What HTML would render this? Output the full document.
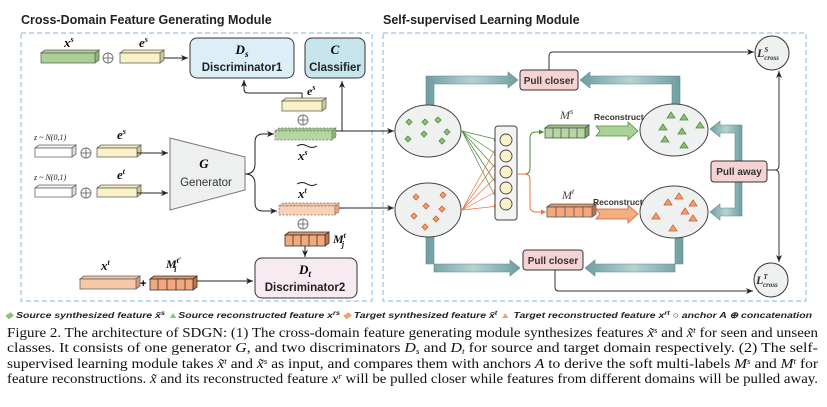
<!DOCTYPE html>
<html><head><meta charset="utf-8"><style>
html,body{margin:0;padding:0;background:#fff;}
svg{display:block;}
.t{font-family:"Liberation Sans",sans-serif;}
.s{font-family:"Liberation Serif",serif;}
</style></head><body>
<svg width="827" height="407" viewBox="0 0 827 407" xmlns="http://www.w3.org/2000/svg">
<defs>
<marker id="a" markerWidth="8" markerHeight="8" refX="7" refY="4" orient="auto" markerUnits="userSpaceOnUse"><path d="M0,1 L7,4 L0,7 L2,4z" fill="#222"/></marker>
<marker id="ag" markerWidth="6" markerHeight="6" refX="5" refY="3" orient="auto" markerUnits="userSpaceOnUse"><path d="M0,0.5 L5,3 L0,5.5z" fill="#4f8a3a"/></marker>
<marker id="ao" markerWidth="6" markerHeight="6" refX="5" refY="3" orient="auto" markerUnits="userSpaceOnUse"><path d="M0,0.5 L5,3 L0,5.5z" fill="#e8703a"/></marker>
<linearGradient id="tg" x1="0" y1="0" x2="1" y2="0"><stop offset="0" stop-color="#6f9ea0"/><stop offset="0.5" stop-color="#b7d2d3"/><stop offset="1" stop-color="#6f9ea0"/></linearGradient>
</defs>

<text x="21" y="24" class="t" font-size="12.5" font-weight="bold" fill="#222">Cross-Domain Feature Generating Module</text>
<text x="383" y="24" class="t" font-size="12.5" font-weight="bold" fill="#222">Self-supervised Learning Module</text>
<rect x="21" y="33" width="351" height="268" fill="none" stroke="#9cc3e4" stroke-width="1.2" stroke-dasharray="5,3"/>
<rect x="383" y="33" width="423" height="268" fill="none" stroke="#9cc3e4" stroke-width="1.2" stroke-dasharray="5,3"/>

<g stroke="#666" stroke-width="0.8">
<polygon points="41,53 45,50 99,50 95,53" fill="#a9cf94"/><polygon points="95,53 99,50 99,60 95,63" fill="#8ab574"/><rect x="41" y="53" width="54" height="10" fill="#a9cf94"/>
<polygon points="120,53 124,50 164,50 160,53" fill="#f3e7b4"/><polygon points="160,53 164,50 164,60 160,63" fill="#d9c98a"/><rect x="120" y="53" width="40" height="10" fill="#fbf1c8"/>
<polygon points="282,101 286,98 326,98 322,101" fill="#f3e7b4"/><polygon points="322,101 326,98 326,108 322,111" fill="#d9c98a"/><rect x="282" y="101" width="40" height="10" fill="#fbf1c8"/>
<polygon points="35,148 39,145 76,145 72,148" fill="#f4f4f4"/><polygon points="72,148 76,145 76,154 72,157" fill="#ddd"/><rect x="35" y="148" width="37" height="9" fill="#fff"/>
<polygon points="35,188 39,185 76,185 72,188" fill="#f4f4f4"/><polygon points="72,188 76,185 76,194 72,197" fill="#ddd"/><rect x="35" y="188" width="37" height="9" fill="#fff"/>
<polygon points="97,148 101,145 141,145 137,148" fill="#f3e7b4"/><polygon points="137,148 141,145 141,154 137,157" fill="#d9c98a"/><rect x="97" y="148" width="40" height="9" fill="#fbf1c8"/>
<polygon points="97,188 101,185 141,185 137,188" fill="#f3e7b4"/><polygon points="137,188 141,185 141,194 137,197" fill="#d9c98a"/><rect x="97" y="188" width="40" height="9" fill="#fbf1c8"/>
<polygon points="80,279 84,276 140,276 136,279" fill="#f6c3a1"/><polygon points="136,279 140,276 140,286 136,289" fill="#d99b77"/><rect x="80" y="279" width="56" height="10" fill="#f8c9a8"/>
</g>
<g stroke="#777" stroke-width="0.8" stroke-dasharray="2,1.5">
<polygon points="275,131 279,128 336,128 332,131" fill="#9cc486"/><rect x="275" y="131" width="57" height="9" fill="#b5d6a2"/><polygon points="332,131 336,128 336,137 332,140" fill="#8ab574"/>
<polygon points="279,206 283,203 339,203 335,206" fill="#f3bf9d"/><rect x="279" y="206" width="56" height="9" fill="#f9d1b6"/><polygon points="335,206 339,203 339,212 335,215" fill="#e0a583"/>
</g>
<g stroke="#333" stroke-width="0.8">
<polygon points="285,235 289,232 329,232 325,235" fill="#e99466"/><polygon points="325,235 329,232 329,243 325,246" fill="#c97246"/><rect x="285" y="235" width="40" height="11" fill="#f4a87e"/>
<path d="M293,235V246M301,235V246M309,235V246M317,235V246"/>
<polygon points="150,279 154,276 197,276 193,279" fill="#e99466"/><polygon points="193,279 197,276 197,287 193,290" fill="#c97246"/><rect x="150" y="279" width="43" height="11" fill="#f4a87e"/>
<path d="M158,279V290M167,279V290M176,279V290M185,279V290"/>
</g>
<g stroke="#555" stroke-width="0.8">
<polygon points="545,128 549,125 589,125 585,128" fill="#9cc486"/><polygon points="585,128 589,125 589,135 585,138" fill="#7aa566"/><rect x="545" y="128" width="40" height="10" fill="#b5d6a2"/>
<path d="M553,128V138M561,128V138M569,128V138M577,128V138"/>
<polygon points="547,207 551,204 596,204 592,207" fill="#e99466"/><polygon points="592,207 596,204 596,214 592,217" fill="#c97246"/><rect x="547" y="207" width="45" height="10" fill="#f4a87e"/>
<path d="M556,207V217M565,207V217M574,207V217M583,207V217"/>
</g>

<g class="s" font-style="italic" font-weight="bold" fill="#111">
<text x="64" y="47" font-size="13">x<tspan font-size="8" dy="-5">s</tspan></text>
<text x="139" y="47" font-size="13">e<tspan font-size="8" dy="-5">s</tspan></text>
<text x="307" y="95" font-size="12">e<tspan font-size="8" dy="-5">s</tspan></text>
<text x="117" y="139" font-size="13">e<tspan font-size="8" dy="-5">s</tspan></text>
<text x="117" y="179" font-size="13">e<tspan font-size="8" dy="-5">t</tspan></text>
<text x="298" y="160" font-size="13">x<tspan font-size="8" dy="-5">s</tspan></text>
<text x="298" y="198" font-size="13">x<tspan font-size="8" dy="-5">t</tspan></text>
<text x="101" y="270" font-size="13">x<tspan font-size="8" dy="-5">t</tspan></text>
<text x="166" y="268" font-size="12">M<tspan font-size="8" dy="-5">t′</tspan><tspan font-size="8" dx="-7" dy="9">i</tspan></text>
<text x="333" y="243" font-size="12">M<tspan font-size="8" dy="-5">t</tspan><tspan font-size="8" dx="-4" dy="9">j</tspan></text>
</g>
<g stroke="#111" stroke-width="1" fill="none">
<path d="M297,146 q5,-3 10,0 q5,3 10,0"/><path d="M297,184 q5,-3 10,0 q5,3 10,0"/>
</g>
<g class="s" font-style="italic" font-size="8" fill="#222">
<text x="34" y="140">z ~ N(0,1)</text><text x="34" y="180">z ~ N(0,1)</text>
</g>
<g stroke="#777" stroke-width="1" fill="none">
<circle cx="108" cy="58" r="5"/><path d="M103,58h10M108,53v10"/>
<circle cx="303" cy="120" r="5"/><path d="M298,120h10M303,115v10"/>
<circle cx="86" cy="153" r="5"/><path d="M81,153h10M86,148v10"/>
<circle cx="86" cy="193" r="5"/><path d="M81,193h10M86,188v10"/>
<circle cx="303" cy="224" r="5"/><path d="M298,224h10M303,219v10"/>
</g>
<text x="140" y="287" class="t" font-size="11" font-weight="bold">+</text>

<rect x="190" y="38" width="104" height="40" rx="7" fill="#dceff8" stroke="#333" stroke-width="1"/>
<text x="242" y="54" class="s" font-size="13" font-style="italic" font-weight="bold" text-anchor="middle">D<tspan font-size="9" dy="3">s</tspan></text>
<text x="242" y="71" class="t" font-size="11.5" font-weight="bold" text-anchor="middle" fill="#222">Discriminator1</text>
<rect x="305" y="38" width="60" height="40" rx="7" fill="#c6e5ec" stroke="#333" stroke-width="1"/>
<text x="335" y="54" class="s" font-size="13" font-style="italic" font-weight="bold" text-anchor="middle">C</text>
<text x="335" y="71" class="t" font-size="11.5" font-weight="bold" text-anchor="middle" fill="#222">Classifier</text>
<rect x="255" y="258" width="102" height="40" rx="7" fill="#f7eaf1" stroke="#333" stroke-width="1"/>
<text x="305" y="274" class="s" font-size="13" font-style="italic" font-weight="bold" text-anchor="middle">D<tspan font-size="9" dy="3">t</tspan></text>
<text x="305" y="291" class="t" font-size="11.5" font-weight="bold" text-anchor="middle" fill="#222">Discriminator2</text>

<polygon points="170,138 245,157 245,190 170,210" fill="#eef0f0" stroke="#777" stroke-width="1"/>
<text x="204" y="168" class="s" font-size="13" font-style="italic" font-weight="bold" text-anchor="middle">G</text>
<text x="206" y="186" class="t" font-size="11.5" text-anchor="middle" fill="#333">Generator</text>

<g stroke="#222" stroke-width="1" fill="none" marker-end="url(#a)">
<path d="M164,58H188"/>
<path d="M137,153H168"/><path d="M137,193H168"/>
<path d="M245,174 q10,0 10,-10 V142 q0,-8 8,-8 H274"/>
<path d="M245,174 q10,0 10,10 V203 q0,8 8,8 H277"/>
<path d="M302,98 V93 H248 q-4,0 -4,-4 V80"/>
<path d="M342,131 V81"/>
<path d="M305,246 V257"/>
<path d="M197,281 H253"/>
<path d="M336,131 H394"/>
<path d="M339,208 H394"/>
</g>

<g fill="url(#tg)" stroke="#5d8b8d" stroke-width="0.6">
<path d="M426,105 V76 H508 V72 L518,80 L508,88 V84 H434 V105z"/>
<path d="M680,104 V76 H590 V72 L580,80 L590,88 V84 H672 V104z"/>
<path d="M426,237 V264 H510 V260 L520,268 L510,276 V272 H434 V237z" />
<path d="M683,237 V264 H595 V260 L585,268 L595,276 V272 H675 V237z"/>
<path d="M742,125 H720 V121 L710,129 L720,137 V133 H735 V208 H720 V204 L710,212 L720,220 V216 H742z"/>
</g>

<g fill="#eef1f0" stroke="#444" stroke-width="1">
<ellipse cx="428" cy="131" rx="33" ry="26"/>
<ellipse cx="428" cy="210" rx="33" ry="27"/>
<ellipse cx="674" cy="130" rx="34" ry="26"/>
<ellipse cx="674" cy="212" rx="34" ry="26"/>
</g>
<g fill="#8cc07a" stroke="#4f8a3a" stroke-width="0.8">
<path d="M409,119l3,3-3,3-3-3z"/><path d="M425,119l3,3-3,3-3-3z"/><path d="M438,117l3,3-3,3-3-3z"/><path d="M447,129l3,3-3,3-3-3z"/><path d="M424,131l3,3-3,3-3-3z"/><path d="M408,136l3,3-3,3-3-3z"/><path d="M442,138l3,3-3,3-3-3z"/>
</g>
<g fill="#f2a070" stroke="#c9602c" stroke-width="0.8">
<path d="M416,194l3,3-3,3-3-3z"/><path d="M443,192l3,3-3,3-3-3z"/><path d="M426,203l3,3-3,3-3-3z"/><path d="M442,206l3,3-3,3-3-3z"/><path d="M414,213l3,3-3,3-3-3z"/><path d="M436,216l3,3-3,3-3-3z"/><path d="M425,224l3,3-3,3-3-3z"/>
</g>
<g fill="#8cc07a" stroke="#4f8a3a" stroke-width="0.8">
<path d="M671,112l4,6h-8z"/><path d="M684,114l4,6h-8z"/><path d="M663,124l4,6h-8z"/><path d="M682,128l4,6h-8z"/><path d="M700,122l4,6h-8z"/><path d="M665,136l4,6h-8z"/><path d="M684,142l4,6h-8z"/>
</g>
<g fill="#f2a070" stroke="#c9602c" stroke-width="0.8">
<path d="M679,193l4,6h-8z"/><path d="M668,199l4,6h-8z"/><path d="M693,200l4,6h-8z"/><path d="M685,208l4,6h-8z"/><path d="M693,215l4,6h-8z"/><path d="M656,213l4,6h-8z"/><path d="M673,225l4,6h-8z"/>
</g>

<g stroke="#4f8a3a" stroke-width="0.7" marker-end="url(#ag)">
<path d="M462,131L499,140"/><path d="M462,131L499,156"/><path d="M462,131L499,172"/><path d="M462,131L499,188"/><path d="M462,131L499,204"/>
</g>
<g stroke="#e8703a" stroke-width="0.7" marker-end="url(#ao)">
<path d="M462,210L499,142"/><path d="M462,210L499,158"/><path d="M462,210L499,174"/><path d="M462,210L499,190"/><path d="M462,210L499,206"/>
</g>
<rect x="495" y="126" width="22" height="94" rx="3" fill="#f3f3f3" stroke="#444" stroke-width="1"/>
<g fill="#fbf1c8" stroke="#444" stroke-width="0.9">
<circle cx="506" cy="140" r="6"/><circle cx="506" cy="156" r="6"/><circle cx="506" cy="172" r="6"/><circle cx="506" cy="188" r="6"/><circle cx="506" cy="204" r="6"/>
</g>
<path d="M517,174 h8 q5,0 5,-6 V138 q0,-6 6,-6 H544" stroke="#4f8a3a" fill="none" stroke-width="1" marker-end="url(#ag)"/>
<path d="M517,174 h8 q5,0 5,6 V206 q0,6 6,6 H546" stroke="#e8703a" fill="none" stroke-width="1" marker-end="url(#ao)"/>

<g class="s" font-style="italic" fill="#444" font-size="12">
<text x="560" y="119">M<tspan font-size="8" dy="-5">s</tspan></text>
<text x="562" y="199">M<tspan font-size="8" dy="-5">t</tspan></text>
</g>
<g class="t" font-size="8.5" font-weight="bold" fill="#333">
<text x="594" y="120">Reconstruct</text><text x="593" y="205">Reconstruct</text>
</g>
<path d="M596,126 H628 V122 L638,131 L628,140 V136 H596 L600,131z" fill="#a9d296" stroke="#4f8a3a" stroke-width="0.8"/>
<path d="M596,209 H628 V205 L638,214 L628,223 V219 H596 L600,214z" fill="#f6ad82" stroke="#c9602c" stroke-width="0.8"/>

<g fill="#f5d3d3" stroke="#333" stroke-width="1">
<rect x="520" y="70" width="58" height="20" rx="3"/>
<rect x="523" y="250" width="60" height="20" rx="3"/>
<rect x="711" y="161" width="56" height="21" rx="3"/>
</g>
<g class="t" font-size="10" font-weight="bold" fill="#333" text-anchor="middle">
<text x="549" y="84">Pull closer</text><text x="553" y="264">Pull closer</text><text x="739" y="175">Pull away</text>
</g>

<circle cx="772" cy="53" r="17" fill="#eef1f0" stroke="#333" stroke-width="1"/>
<circle cx="771" cy="280" r="17" fill="#eef1f0" stroke="#333" stroke-width="1"/>
<g class="s" font-style="italic" font-weight="bold" fill="#333">
<text x="757" y="57" font-size="12">L<tspan font-size="7" dy="-5">S</tspan><tspan font-size="7" dx="-4" dy="8">cross</tspan></text>
<text x="756" y="284" font-size="12">L<tspan font-size="7" dy="-5">T</tspan><tspan font-size="7" dx="-4" dy="8">cross</tspan></text>
</g>
<g stroke="#333" stroke-width="1" fill="none" marker-end="url(#a)">
<path d="M549,70 V56 q0,-4 4,-4 H754"/>
<path d="M555,270 V287 q0,4 4,4 H753"/>
<path d="M767,170 h8 q4,0 4,-5 V71"/>
<path d="M767,170 h8 q4,0 4,5 V262"/>
</g>

<text x="5" y="318" class="t" font-size="8.6" font-style="italic" font-weight="bold" fill="#222" textLength="807" lengthAdjust="spacingAndGlyphs"><tspan fill="#8cc07a">◆</tspan> Source synthesized feature x̃<tspan font-size="6" dy="-3">s</tspan><tspan dy="3">  </tspan><tspan fill="#8cc07a">▲</tspan>Source reconstructed feature x<tspan font-size="6" dy="-3">rs</tspan><tspan dy="3"> </tspan><tspan fill="#f2a070">◆</tspan> Target synthesized feature x̃<tspan font-size="6" dy="-3">t</tspan><tspan dy="3"> </tspan><tspan fill="#f2a070">▲</tspan> Target reconstructed feature x<tspan font-size="6" dy="-3">rt</tspan><tspan dy="3"> </tspan>○ anchor A ⊕ concatenation</text>

<g class="s" font-size="13.6" fill="#111">
<text x="7" y="337" textLength="811" lengthAdjust="spacingAndGlyphs">Figure 2.  The architecture of SDGN: (1) The cross-domain feature generating module synthesizes features <tspan font-style="italic">x̃<tspan font-size="8" dy="-4">s</tspan></tspan><tspan dy="4"> and </tspan><tspan font-style="italic">x̃<tspan font-size="8" dy="-4">t</tspan></tspan><tspan dy="4"> for seen and unseen</tspan></text>
<text x="7" y="352" textLength="811" lengthAdjust="spacingAndGlyphs">classes.  It consists of one generator <tspan font-style="italic">G</tspan>, and two discriminators <tspan font-style="italic">D<tspan font-size="8" dy="2">s</tspan></tspan><tspan dy="-2"> and </tspan><tspan font-style="italic">D<tspan font-size="8" dy="2">t</tspan></tspan><tspan dy="-2"> for source and target domain respectively.  (2) The self-</tspan></text>
<text x="7" y="368" textLength="811" lengthAdjust="spacingAndGlyphs">supervised learning module takes <tspan font-style="italic">x̃<tspan font-size="8" dy="-4">t</tspan></tspan><tspan dy="4"> and </tspan><tspan font-style="italic">x̃<tspan font-size="8" dy="-4">s</tspan></tspan><tspan dy="4"> as input, and compares them with anchors </tspan><tspan font-style="italic">A</tspan> to derive the soft multi-labels <tspan font-style="italic">M<tspan font-size="8" dy="-4">s</tspan></tspan><tspan dy="4"> and </tspan><tspan font-style="italic">M<tspan font-size="8" dy="-4">t</tspan></tspan><tspan dy="4"> for</tspan></text>
<text x="7" y="383" textLength="811" lengthAdjust="spacingAndGlyphs">feature reconstructions. <tspan font-style="italic">x̃</tspan> and its reconstructed feature <tspan font-style="italic">x<tspan font-size="8" dy="-4">r</tspan></tspan><tspan dy="4"> will be pulled closer while features from different domains will be pulled away.</tspan></text>
</g>
</svg>
</body></html>
